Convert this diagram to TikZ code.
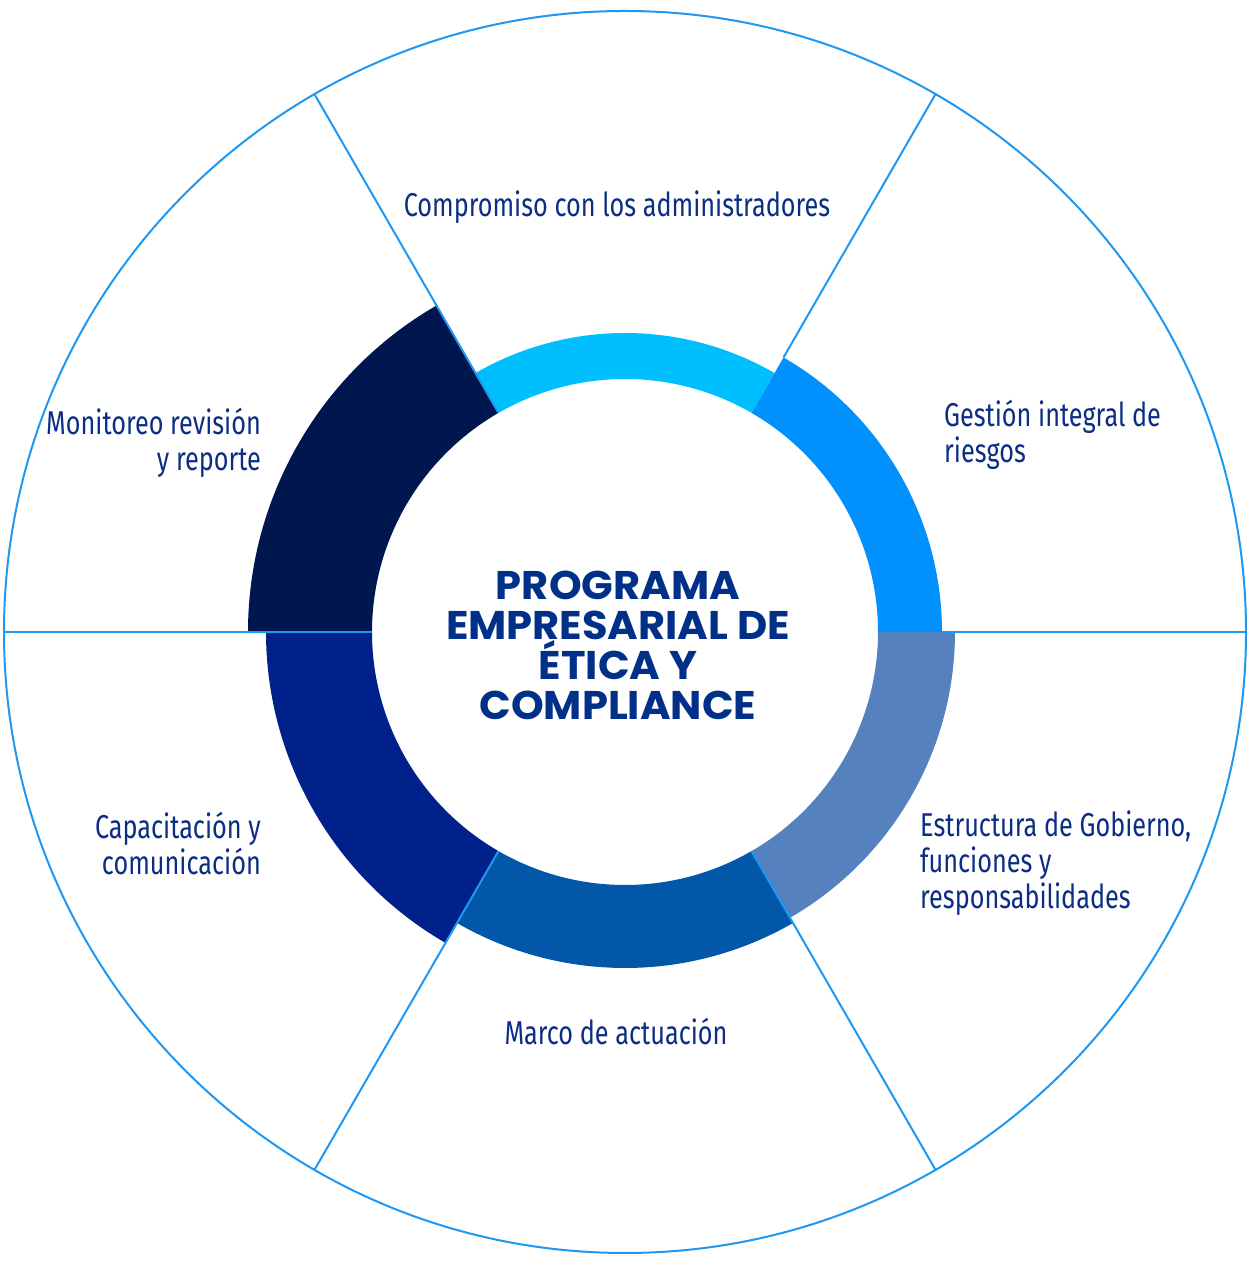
\documentclass[tikz,border=0pt]{standalone}
\usepackage{fontspec}
\setmainfont{Fira Sans}[FakeStretch=0.765]
\newfontfamily\headfont{Poppins}[FakeStretch=1.04]
\usetikzlibrary{calc}
\definecolor{ringcyan}{HTML}{00BFFF}
\definecolor{ringblue}{HTML}{0091FF}
\definecolor{ringsteel}{HTML}{5581BE}
\definecolor{ringmid}{HTML}{0257A9}
\definecolor{ringnavy}{HTML}{00208A}
\definecolor{ringdark}{HTML}{00164F}
\definecolor{linecol}{HTML}{1E98F2}
\definecolor{txtcol}{HTML}{0B2D84}
\definecolor{headcol}{HTML}{003087}
\newcommand\ringseg[4]{\fill[#1] ([shift={(#2:#4pt)}]C) arc[start angle=#2,end angle=#3,radius=#4pt] -- ([shift={(#3:253pt)}]C) arc[start angle=#3,end angle=#2,radius=253pt] -- cycle;}
\begin{document}
\begin{tikzpicture}[x=1pt,y=1pt,
  divline/.style={draw=linecol,line width=2pt},
  lbl/.style={text=txtcol,font=\fontsize{33}{36}\selectfont,inner sep=0pt},
  head/.style={text=headcol,font=\headfont\bfseries\fontsize{40}{40}\selectfont,inner sep=0pt,align=center}]
\useasboundingbox (0,0) rectangle (1254,1266);
\fill[white] (0,0) rectangle (1254,1266);
\coordinate (C) at (625,634);
\draw[divline] (C) circle[radius=621pt];
\ringseg{ringblue}{0}{60}{317}
\ringseg{ringcyan}{60}{120}{299}
\ringseg{ringdark}{120}{180}{377}
\ringseg{ringnavy}{180}{240}{359}
\ringseg{ringmid}{240}{300}{336}
\ringseg{ringsteel}{300}{360}{330}
\draw[divline] ([shift={(0:317pt)}]C) -- ([shift={(0:621pt)}]C);
\draw[divline] ([shift={(60:317pt)}]C) -- ([shift={(60:621pt)}]C);
\draw[divline] ([shift={(120:253pt)}]C) -- ([shift={(120:621pt)}]C);
\draw[divline] ([shift={(180:253pt)}]C) -- ([shift={(180:621pt)}]C);
\draw[divline] ([shift={(240:253pt)}]C) -- ([shift={(240:621pt)}]C);
\draw[divline] ([shift={(300:253pt)}]C) -- ([shift={(300:621pt)}]C);
\node[head,anchor=base] (center) at (618,546) {PROGRAMA\\EMPRESARIAL DE\\ÉTICA Y\\COMPLIANCE};
\node[lbl,anchor=base] (comp) at (617,1049) {Compromiso con los administradores};
\node[lbl,anchor=base west,align=left] (gest) at (944,803) {Gestión integral de\\riesgos};
\node[lbl,anchor=base west,align=left] (estr) at (920,357) {Estructura de Gobierno,\\funciones y\\responsabilidades};
\node[lbl,anchor=base] (marco) at (616,221) {Marco de actuación};
\node[lbl,anchor=base east,align=right] (capa) at (261,391) {Capacitación y\\comunicación};
\node[lbl,anchor=base east,align=right] (moni) at (261,795) {Monitoreo revisión\\y reporte};
\end{tikzpicture}
\end{document}
